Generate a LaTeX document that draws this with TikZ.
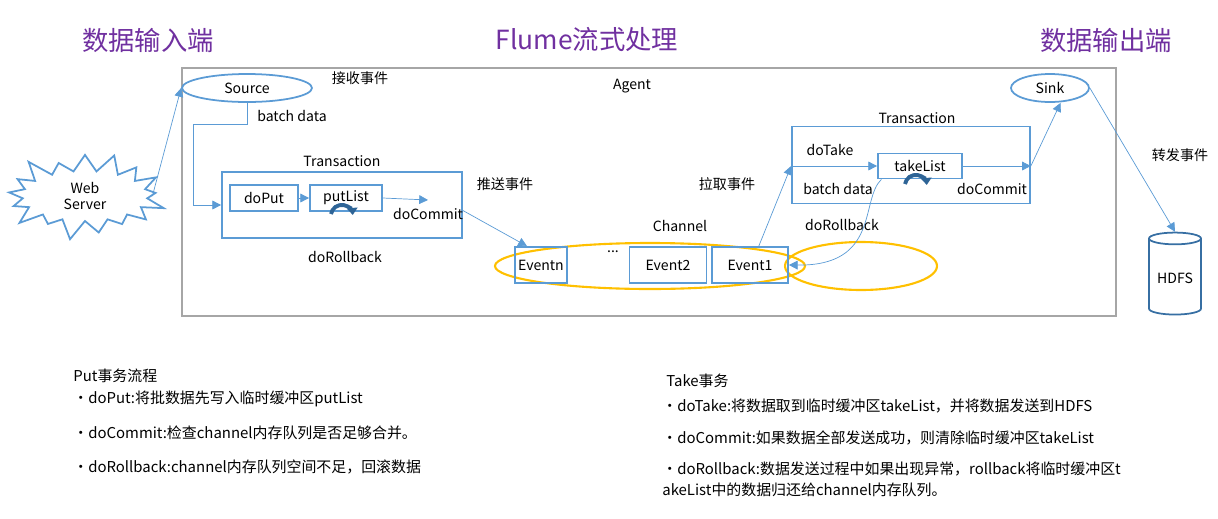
\documentclass[tikz,border=0pt]{standalone}
\usepackage{fontspec}
\setmainfont{Noto Sans CJK SC}
\usetikzlibrary{shapes.symbols,shapes.geometric,arrows.meta}
\definecolor{lineblue}{RGB}{91,155,213}
\definecolor{darkblue}{RGB}{46,100,150}
\definecolor{chanorange}{RGB}{255,192,0}
\definecolor{titlepurple}{RGB}{112,48,160}
\tikzset{
  box/.style={draw=lineblue, line width=1pt, minimum height=0.52cm, inner sep=2pt},
  conn/.style={draw=lineblue, -{Triangle[length=5pt,width=5pt]}},
  lbl/.style={font=\fontsize{8}{9}\selectfont, inner sep=1pt},
  title/.style={font=\fontsize{15}{17}\selectfont, text=titlepurple},
  note/.style={font=\fontsize{8.5}{10}\selectfont, anchor=west, inner sep=0pt},
  loop/.style={draw=darkblue, line width=2.2pt, -{Triangle[length=4pt,width=6pt]}}
}
\begin{document}
\begin{tikzpicture}[x=0.02cm, y=-0.02cm]
            \useasboundingbox (0,0) rectangle (1218,518);
            % titles
            \node[title] (tin) at (148,40) {数据输入端};
            \node[title] (tflume) at (587,40) {Flume流式处理};
            \node[title] (tout) at (1106,40) {数据输出端};

            % agent
            \draw[gray!70, line width=1pt] (182,68) rectangle (1116,316);
            \node[lbl] (agent) at (632,86) {Agent};
            \node[lbl] (recv) at (360,78) {接收事件};

            \node[draw=lineblue, line width=1pt, ellipse, minimum width=2.6cm, minimum height=0.56cm, lbl] (source) at (247,88) {Source};
            \node[draw=lineblue, line width=1pt, starburst, starburst points=17, starburst point height=0.45cm, minimum width=3.4cm, minimum height=1.9cm, align=center, lbl] (web) at (85,196) {Web\\Server};
            \node[lbl] (batch1) at (292,116) {batch data};

            % put transaction
            \node[box, minimum width=4.8cm, minimum height=1.32cm] (trans1) at (342,205) {};
            \node[lbl] at (342,161) {Transaction};
            \node[box, minimum width=1.36cm, lbl] (doput) at (264,198) {doPut};
            \node[box, minimum width=1.44cm, lbl] (putlist) at (346,198) {putList};
            \coordinate (commit1) at (428,200);
            \node[lbl] at (428,214) {doCommit};
            \node[lbl] at (345,257) {doRollback};
            \node[lbl] (push) at (505,184) {推送事件};

            \draw[conn] (web.east) -- (source.west);
            \draw[conn] (source.south) |- (193,124) |- (trans1.west);
            \draw[conn] (doput) -- (putlist);
            \draw[conn] (putlist.east) -- (commit1);
            \draw[loop] (331,214) arc (190:355:11);

            % channel
            \node[lbl] at (680,226) {Channel};
            \draw[chanorange, line width=1.2pt] (650,266) ellipse (155 and 23);
            \draw[chanorange, line width=1.2pt] (861,266) ellipse (76 and 24);
            \node[box, minimum width=1.04cm, minimum height=0.72cm, lbl] (eventn) at (541,265) {Eventn};
            \node[lbl] at (613,252) {...};
            \node[box, minimum width=1.54cm, minimum height=0.72cm, lbl] (event2) at (668,265) {Event2};
            \node[box, minimum width=1.52cm, minimum height=0.72cm, lbl] (event1) at (750,265) {Event1};
            \coordinate (commitout) at (462,210);
            \draw[conn] (commitout) -- ([xshift=-8pt]eventn.north);

            % take transaction
            \node[box, minimum width=4.76cm, minimum height=1.54cm] (trans2) at (911,165) {};
            \node[lbl] at (917,118) {Transaction};
            \node[lbl] at (830,150) {doTake};
            \node[box, minimum width=1.68cm, minimum height=0.5cm, lbl] (takelist) at (920,166) {takeList};
            \node[lbl] at (838,189) {batch data};
            \node[lbl] at (992,189) {doCommit};
            \node[lbl] at (842,225) {doRollback};
            \node[lbl] (pull) at (727,184) {拉取事件};
            \draw[loop] (905,184) arc (190:355:11);

            \draw[conn] ([xshift=5pt]event1.north) -- (trans2.west |- takelist);
            \draw[conn] (trans2.west |- takelist) -- (takelist.west);
            \draw[conn] (takelist.east) -- (trans2.east |- takelist);

            % sink and hdfs
            \node[draw=lineblue, line width=1pt, ellipse, minimum width=1.56cm, minimum height=0.56cm, lbl] (sink) at (1050,88) {Sink};
            \node[draw=darkblue!80!lineblue, line width=1pt, cylinder, shape border rotate=90, aspect=0.3, minimum width=1.04cm, minimum height=1.64cm, lbl] (hdfs) at (1175,278) {HDFS};
            \node[lbl] at (1180,155) {转发事件};
            \draw[conn] (trans2.east |- takelist) -- ([xshift=6pt]sink.south);
            \draw[conn] (sink.east) -- (hdfs.top);
            \draw[conn] ([xshift=-22pt]takelist.south) .. controls (860,200) and (880,266) .. (event1.east);

            % notes
            \node[note] (put0) at (73,376) {Put事务流程};
            \node[note] (put1) at (73,399) {•doPut:将批数据先写入临时缓冲区putList};
            \node[note] (put2) at (73,433) {•doCommit:检查channel内存队列是否足够合并。};
            \node[note] (put3) at (73,467) {•doRollback:channel内存队列空间不足，回滚数据};
            \node[note] (take0) at (666,381) {Take事务};
            \node[note] (take1) at (662,406) {•doTake:将数据取到临时缓冲区takeList，并将数据发送到HDFS};
            \node[note] (take2) at (662,438) {•doCommit:如果数据全部发送成功，则清除临时缓冲区takeList};
            \node[note] (take3) at (662,469) {•doRollback:数据发送过程中如果出现异常，rollback将临时缓冲区t};
            \node[note] (take4) at (662,490) {akeList中的数据归还给channel内存队列。};
\end{tikzpicture}
\end{document}
